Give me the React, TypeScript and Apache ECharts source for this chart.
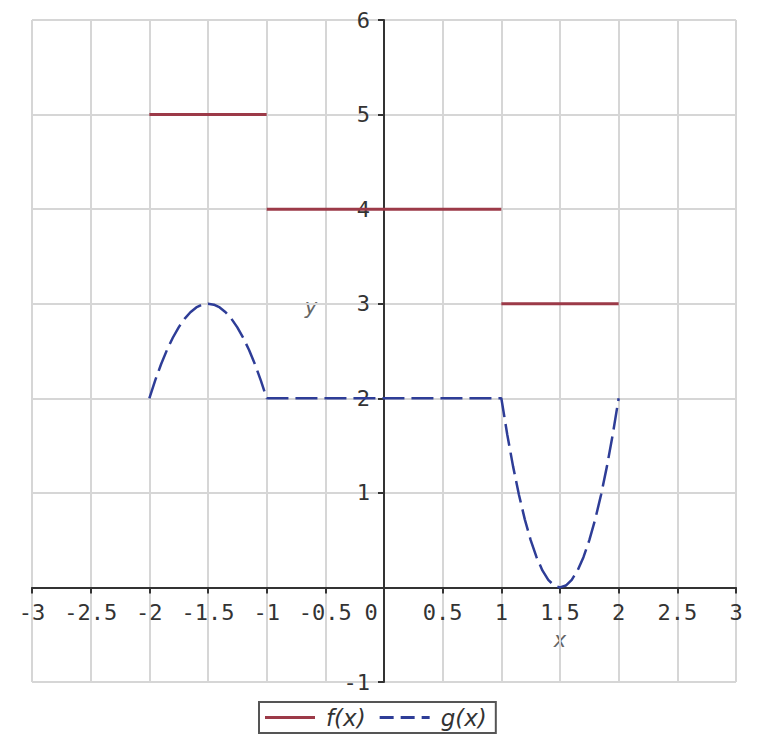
import React, { useEffect, useRef } from "react";
import * as echarts from "echarts";

const xTicks = { min: -3, max: 3, interval: 0.5 };
const yTicks = { min: -1, max: 6, interval: 1 };

// f(x): piecewise constant, '-' marks a gap
const fX = [-2, -1, -1, -1, 1, 1, 1, 2];
const fY: (number | string)[] = [5, 5, "-", 4, 4, "-", 3, 3];

// g(x)
const gX = [
  -2, -1.95, -1.9, -1.85, -1.8, -1.75, -1.7, -1.65, -1.6, -1.55, -1.5,
  -1.45, -1.4, -1.35, -1.3, -1.25, -1.2, -1.15, -1.1, -1.05, -1,
  0, 1,
  1.05, 1.1, 1.15, 1.2, 1.25, 1.3, 1.35, 1.4, 1.45, 1.5,
  1.55, 1.6, 1.65, 1.7, 1.75, 1.8, 1.85, 1.9, 1.95, 2,
];
const gY = [
  2, 2.19, 2.36, 2.51, 2.64, 2.75, 2.84, 2.91, 2.96, 2.99, 3,
  2.99, 2.96, 2.91, 2.84, 2.75, 2.64, 2.51, 2.36, 2.19, 2,
  2, 2,
  1.62, 1.28, 0.98, 0.72, 0.5, 0.32, 0.18, 0.08, 0.02, 0,
  0.02, 0.08, 0.18, 0.32, 0.5, 0.72, 0.98, 1.28, 1.62, 2,
];

const seriesNames = ["f(x)", "g(x)"];
const FONT = "DejaVu Sans Mono";
const LABEL_FONT = "DejaVu Sans";

const GRID = { left: 32, right: 32, top: 20, bottom: 65 };
const W = 768;
const H = 747;

export default function App() {
  const ref = useRef<HTMLDivElement>(null);
  useEffect(() => {
    if (!ref.current) return;
    const chart = echarts.init(ref.current, null, { renderer: "svg" });
    const gridW = W - GRID.left - GRID.right;
    const gridH = H - GRID.top - GRID.bottom;
    const xOffset = -(gridH * (0 - yTicks.min)) / (yTicks.max - yTicks.min);
    const yOffset = -(gridW * (0 - xTicks.min)) / (xTicks.max - xTicks.min);
    const axisLine = { show: true, onZero: false, lineStyle: { color: "#333", width: 2 } };
    const axisTick = { show: true, length: 6, lineStyle: { color: "#333", width: 2 } };
    const splitLine = { show: true, lineStyle: { color: "#d6d6d6", width: 2 } };
    chart.setOption({
      animation: false,
      backgroundColor: "#fff",
      grid: { ...GRID, outerBoundsMode: "none", containLabel: false },
      xAxis: {
        type: "value",
        min: xTicks.min,
        max: xTicks.max,
        interval: xTicks.interval,
        position: "bottom",
        offset: xOffset,
        axisLine,
        axisTick,
        splitLine,
        axisLabel: {
          margin: 14,
          fontFamily: FONT,
          fontSize: 22,
          color: "#333",
          showMinLabel: true,
          showMaxLabel: true,
          hideOverlap: false,
          formatter: (v: number) => (v === 0 ? "{z|0}" : String(v)),
          rich: {
            z: { fontFamily: FONT, fontSize: 22, color: "#333", padding: [0, 26, 0, 0] },
          },
        },
      },
      yAxis: {
        type: "value",
        min: yTicks.min,
        max: yTicks.max,
        interval: yTicks.interval,
        position: "left",
        offset: yOffset,
        axisLine,
        axisTick,
        splitLine,
        axisLabel: {
          margin: 14,
          fontFamily: FONT,
          fontSize: 22,
          color: "#333",
          showMinLabel: true,
          showMaxLabel: true,
          hideOverlap: false,
          formatter: (v: number) => (v === 0 ? "" : String(v)),
        },
      },
      legend: {
        data: [
          { name: seriesNames[0], icon: "path://M0,0H50V3H0Z" },
          {
            name: seriesNames[1],
            icon: "path://M0,0H14V3H0Z M21,0H35V3H21Z M42,0H50V3H42Z",
          },
        ],
        left: 259,
        top: 702,
        orient: "horizontal",
        padding: [4, 9, 4, 6],
        itemWidth: 50,
        itemHeight: 3,
        itemGap: 14,
        borderColor: "#555",
        borderWidth: 2,
        borderRadius: 0,
        backgroundColor: "#fff",
        selectedMode: false,
        textStyle: {
          fontFamily: LABEL_FONT,
          fontStyle: "italic",
          fontSize: 23,
          color: "#333",
          padding: [0, 0, 0, 6],
        },
      },
      graphic: [
        {
          type: "text",
          x: 311,
          y: 307,
          style: {
            text: "y",
            font: `italic 21px ${LABEL_FONT}`,
            fill: "#666",
            align: "center",
            verticalAlign: "middle",
          },
        },
        {
          type: "text",
          x: 560,
          y: 640,
          style: {
            text: "x",
            font: `italic 21px ${LABEL_FONT}`,
            fill: "#666",
            align: "center",
            verticalAlign: "middle",
          },
        },
      ],
      series: [
        {
          name: seriesNames[0],
          type: "line",
          data: fX.map((x, i) => [x, fY[i]]),
          showSymbol: false,
          symbol: "none",
          connectNulls: false,
          lineStyle: { color: "#9c3a48", width: 3 },
          itemStyle: { color: "#9c3a48" },
          z: 3,
        },
        {
          name: seriesNames[1],
          type: "line",
          data: gX.map((x, i) => [x, gY[i]]),
          showSymbol: false,
          symbol: "none",
          lineStyle: { color: "#2e3d97", width: 2.5, type: [22, 7] },
          itemStyle: { color: "#2e3d97" },
          z: 4,
        },
      ],
    });
    return () => chart.dispose();
  }, []);
  return (
    <div
      ref={ref}
      style={{ position: "absolute", left: 0, top: 0, width: W, height: H }}
    />
  );
}
